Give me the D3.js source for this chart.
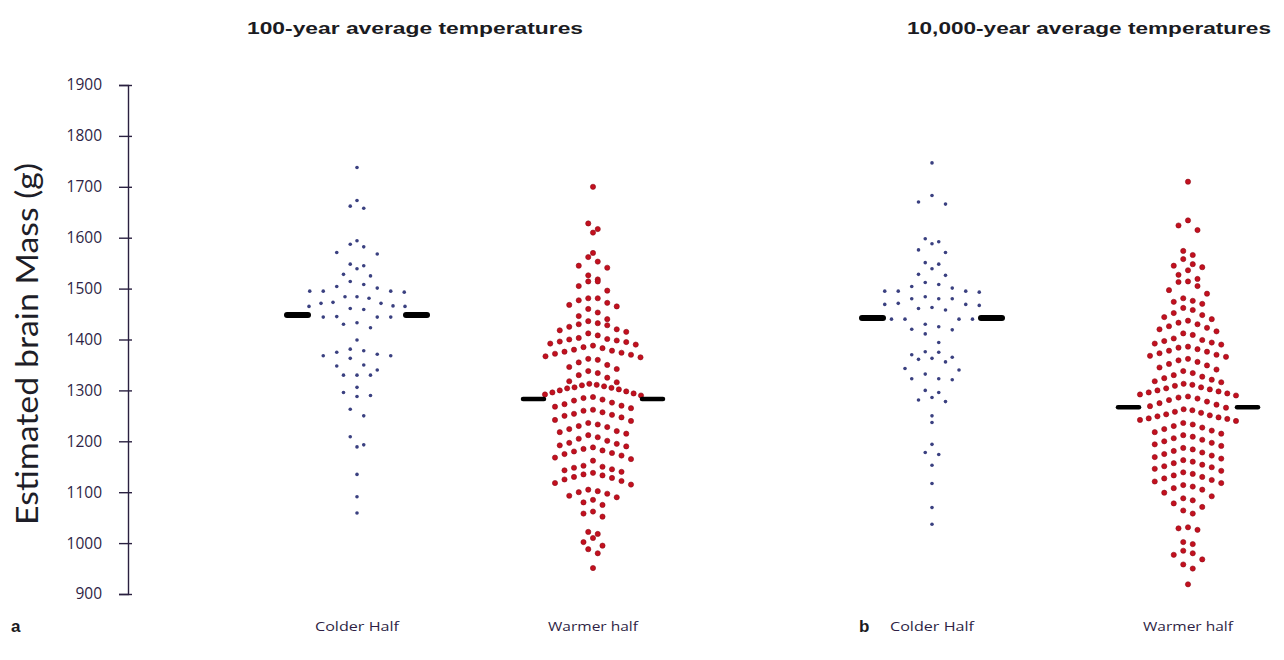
<!DOCTYPE html>
<html><head><meta charset="utf-8">
<script src="https://cdn.jsdelivr.net/npm/d3@7"></script>
<style>body{margin:0;background:#fff}</style></head>
<body><svg id="c" width="1284" height="660"></svg>
<script>
// ---------- data ----------
const yTicks = [900,1000,1100,1200,1300,1400,1500,1600,1700,1800,1900];
const categories = ["Colder Half","Warmer half"];
const panelLetters = ["a","b"];
const panelTitles = ["100-year average temperatures","10,000-year average temperatures"];
const yTitle = "Estimated brain Mass (g)";

const coldA = [1738,1662,1658,1673,1587,1582,1594,1568,1571,1545,1548,1539,1528,1525,
  1514,1508,1504,1501,1495,1495,1495,1493,1484,1484,1481,1471,1473,1471,1465,1466,1465,1461,1459,
  1445,1444,1444,1444,1430,1433,1423,1399,1368,1371,1378,1381,1375,1368,1350,1363,1348,
  1330,1340,1330,1330,1306,1288,1290,1296,1263,1250,1209,1189,1193,1135,1091,1059];

const warmA = [1700,1628,1617,1610,1570,1562,1553,1545,1541,
  1526,1518,1514,1514,1505,1496,1481,1481,1477,1472,1468,1465,1460,1453,1446,
  1440,1436,1432,1430,1428,1425,1420,1418,1415,1412,1408,
  1403,1401,1400,1398,1396,1395,1392,1390,1388,1385,1383,1380,1378,1376,1374,1372,1370,1367,1365,1362,1360,1355,1350,1346,1342,1338,1334,1330,1325,
  1318,1316,1313,1311,1310,1308,1306,1305,1304,1302,1300,1298,1296,1294,1292,1290,
  1287,1285,1282,1280,1276,1273,1270,1268,1265,1262,1260,1257,1254,1252,1250,1247,
  1242,1240,1236,1233,1230,1228,1224,1220,1218,1215,1212,1208,1205,1201,
  1197,1195,1192,1190,1188,1185,1182,1180,1177,1175,1172,1168,1165,1162,
  1152,1150,1148,1145,1143,1140,1138,1135,1133,1130,1128,1125,1122,1118,1115,
  1105,1102,1100,1097,1093,1090,1085,1080,1075,1062,1058,1052,
  1022,1018,1010,1002,995,988,980,951];

const coldB = [1747,1670,1666,1683,1592,1588,1598,1571,1576,1548,1551,1539,1528,1526,
  1512,1508,1504,1501,1495,1495,1495,1493,1480,1484,1480,1480,1469,1471,1469,1467,1458,1463,1461,
  1440,1440,1440,1440,1430,1419,1425,1420,1411,1394,1361,1365,1375,1376,1370,1363,1356,1343,1340,
  1323,1332,1323,1321,1300,1296,1286,1281,1278,1250,1237,1194,1174,1178,1153,1117,1070,1037];

const warmB = [1710,1634,1624,1615,1574,1566,1558,1548,1545,1542,1536,
  1527,1519,1514,1513,1505,1497,1490,1481,1476,1474,1470,1462,1458,1452,1448,1444,
  1440,1437,1433,1430,1426,1423,1420,1416,1412,1409,
  1402,1399,1397,1394,1392,1390,1386,1384,1381,1378,1376,1373,1370,1368,1366,1362,1359,1356,1352,1349,1345,1341,1338,1334,1330,1327,1324,1321,
  1318,1316,1313,1311,1309,1306,1304,1302,1300,1298,1296,1294,1292,1290,1288,1286,1284,1281,
  1278,1275,1272,1269,1266,1263,1261,1258,1256,1253,1251,1249,1247,1245,1244,1242,1240,
  1236,1233,1230,1227,1224,1221,1218,1215,1212,1209,1206,1203,1200,1197,1194,1191,
  1187,1184,1181,1178,1175,1172,1169,1166,1163,1160,1157,1154,1151,1149,
  1146,1142,1139,1136,1133,1130,1127,1124,1121,1118,1114,1111,1108,1105,
  1099,1092,1088,1084,1078,1071,1064,1058,1031,1029,1026,1002,998,985,980,977,968,958,950,919];

const meansA = [1448,1283];
const meansB = [1442,1267];

// ---------- drawing ----------
const svg = d3.select("#c");
const y = d3.scaleLinear().domain([900,1900]).range([594,85]);
const xA = d3.scalePoint().domain(categories).range([357,593]);
const xB = d3.scalePoint().domain(categories).range([932,1188]);

const blue = "#3a4080", red = "#c3101e";

// y axis
const axisX = 128;
const ax = svg.append("g").attr("transform",`translate(${axisX},0)`)
  .call(d3.axisLeft(y).tickValues(yTicks).tickSize(9).tickPadding(17).tickFormat(d3.format("d")));
ax.select(".domain").attr("stroke","#2a2040").attr("stroke-width",1.4);
ax.selectAll(".tick line").attr("x1",4).attr("stroke","#2a2040").attr("stroke-width",1.4);
ax.selectAll(".tick text").attr("font-family","Open Sans, sans-serif").attr("font-size",15.5)
  .attr("fill","#2e1f45");

svg.append("text").attr("transform","translate(38,344) rotate(-90)")
  .attr("text-anchor","middle").attr("font-family","Lato, Open Sans, sans-serif")
  .attr("font-size",30).attr("textLength",362).attr("lengthAdjust","spacingAndGlyphs")
  .attr("fill","#1e1e28").text(yTitle);

// row-binned symmetric dot layout (centre-out, alternating sides)
function rowLayout(values, binSize, base, spacing, maxHalf){
  const bins = d3.group(values, v => Math.floor((v - base) / binSize));
  const out = [];
  for(const [, vals] of bins){
    const s = vals.slice().sort((a,b)=>b-a);
    const n = s.length;
    let sp = spacing;
    if(n > 1 && (n-1)*sp/2 > maxHalf) sp = 2*maxHalf/(n-1);
    const slots = d3.range(n).map(j => (j - (n-1)/2) * sp);
    const order = slots.slice().sort((a,b)=> Math.abs(a)-Math.abs(b) || a-b);
    s.forEach((v,i)=> out.push({v, dx: order[i]}));
  }
  return out;
}

function drawPanel(x, cold, warm, means, title, letter, titleX, titleLen, letterX){
  const groups = [
    {cat:categories[0], vals:cold, color:blue, stroke:"none", r:1.8, sp:13.5, barW:6},
    {cat:categories[1], vals:warm, color:red, stroke:"#8f0c19", r:2.6, sp:9.5, barW:4.5}
  ];
  groups.forEach((g,i)=>{
    const cx = x(g.cat);
    const pts = rowLayout(g.vals, 25, 15, g.sp, 48);
    svg.append("g").selectAll("circle").data(pts).join("circle")
      .attr("cx",d=>cx+d.dx).attr("cy",d=>y(d.v)).attr("r",g.r)
      .attr("fill",g.color).attr("stroke",g.stroke).attr("stroke-width",0.6);
    const my = y(means[i]);
    [[-70,-49],[49,70]].forEach(([a,b])=>{
      svg.append("line").attr("x1",cx+a).attr("x2",cx+b).attr("y1",my).attr("y2",my)
        .attr("stroke","#000").attr("stroke-width",g.barW).attr("stroke-linecap","round");
    });
    svg.append("text").attr("x",cx).attr("y",631).attr("text-anchor","middle")
      .attr("font-family","Open Sans, sans-serif").attr("font-size",12)
      .attr("textLength",i===0?84:90).attr("lengthAdjust","spacingAndGlyphs")
      .attr("fill","#2e1f45").text(g.cat);
  });
  svg.append("text").attr("x",titleX).attr("y",34).attr("text-anchor","middle")
    .attr("font-family","Liberation Sans, Arial, sans-serif").attr("font-weight","bold")
    .attr("font-size",17).attr("textLength",titleLen).attr("lengthAdjust","spacingAndGlyphs")
    .attr("fill","#1b1b22").text(title);
  svg.append("text").attr("x",letterX).attr("y",632)
    .attr("font-family","Liberation Sans, Arial, sans-serif").attr("font-weight","bold")
    .attr("font-size",17).attr("fill","#1b1b22").text(letter);
}

drawPanel(xA, coldA, warmA, meansA, panelTitles[0], panelLetters[0], 415, 336, 11);
drawPanel(xB, coldB, warmB, meansB, panelTitles[1], panelLetters[1], 1089, 364, 859);
</script></body></html>
